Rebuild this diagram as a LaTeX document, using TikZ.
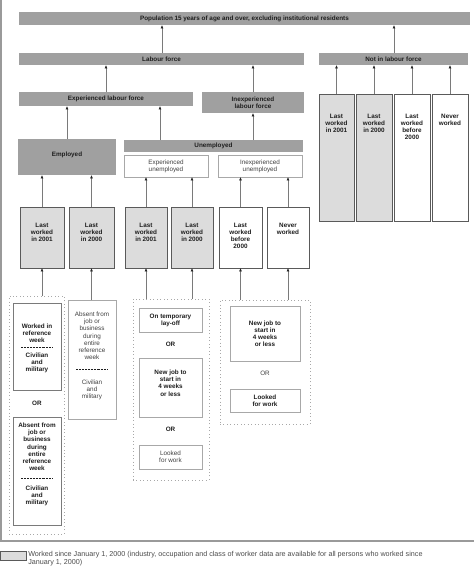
\documentclass[tikz,border=0pt]{standalone}
\usepackage{fontspec}
\setmainfont{Liberation Sans}
\usetikzlibrary{arrows.meta,calc}
\definecolor{dk}{HTML}{A0A0A0}
\definecolor{lt}{HTML}{DCDCDC}
\definecolor{bd}{HTML}{5A5A5A}
\definecolor{ln}{HTML}{7A7A7A}
\definecolor{fr}{HTML}{9A9A9A}
\definecolor{tx}{HTML}{1E1E1E}
\definecolor{lg}{HTML}{A8A8A8}
\tikzset{
  pbox/.style n args={4}{at={({(#1+#3)/2},{(#2+#4)/2})},
    minimum width={(#3-#1)*0.75pt}, minimum height={(#4-#2)*0.75pt},
    inner sep=0pt, outer sep=0pt, rectangle},
  dark/.style={fill=dk, draw=none},
  light/.style={fill=lt, draw=bd, line width=0.6pt},
  whitebox/.style={fill=white, draw=bd, line width=0.6pt},
  thinbox/.style={fill=white, draw=lg, line width=0.6pt},
  midbox/.style={fill=white, draw=ln, line width=0.6pt},
  cont/.style={draw=lg, dotted, line width=0.6pt},
  bf/.style={font=\fontsize{4.75}{5.3}\selectfont\bfseries, text=tx, align=center, inner sep=0pt},
  rg/.style={font=\fontsize{4.75}{5.3}\selectfont, text=tx!85, align=center, inner sep=0pt},
  arr/.style={draw=ln, line width=0.6pt, -{Latex[length=2.6pt,width=2.3pt,color=black!85]}},
  sepline/.style={draw=tx, dash pattern=on 0.7pt off 0.4pt, line width=0.5pt},
  framel/.style={draw=fr, line width=1.5pt},
}
\begin{document}
\begin{tikzpicture}[x=0.75pt,y=-0.75pt]
\useasboundingbox (0,0) rectangle (474,568);
\draw[framel] (1,0) -- (1,540.5) -- (474,540.5);

% top levels
\node[dark,bf,pbox={19}{12}{470}{25}] (pop) {Population 15 years of age and over, excluding institutional residents};
\node[dark,bf,pbox={19}{53}{304}{65}] (lf) {Labour force};
\node[dark,bf,pbox={319}{53}{468}{65}] (nlf) {Not in labour force};
\node[dark,bf,pbox={19}{92}{193}{106}] (elf) {Experienced labour force};
\node[dark,bf,pbox={202}{92}{304}{113}] (ilf) {Inexperienced\\labour force};

% not in labour force columns
\node[light,pbox={319}{94}{354}{221}] (n1) {};
\node[light,pbox={356}{94}{392}{221}] (n2) {};
\node[whitebox,pbox={394}{94}{430}{221}] (n3) {};
\node[whitebox,pbox={432}{94}{468}{221}] (n4) {};
\node[bf,anchor=north] (n1t) at (n1.north |- 0,114) {Last\\worked\\in 2001};
\node[bf,anchor=north] (n2t) at (n2.north |- 0,114) {Last\\worked\\in 2000};
\node[bf,anchor=north] (n3t) at (n3.north |- 0,114) {Last\\worked\\before\\2000};
\node[bf,anchor=north] (n4t) at (n4.north |- 0,114) {Never\\worked};

% employed / unemployed
\node[dark,bf,pbox={18}{139}{116}{175}] (emp) {};
\node[bf] (empt) at (67,155) {Employed};
\node[dark,bf,pbox={124}{140}{303}{152}] (unemp) {Unemployed};
\node[thinbox,rg,pbox={124}{155}{208}{177}] (eu) {Experienced\\unemployed};
\node[thinbox,rg,pbox={218}{155}{302}{177}] (iu) {Inexperienced\\unemployed};

% last worked row
\node[light,pbox={20}{207}{64}{268}] (b1) {};
\node[light,pbox={69}{207}{114}{268}] (b2) {};
\node[light,pbox={125}{207}{167}{268}] (b3) {};
\node[light,pbox={171}{207}{213}{268}] (b4) {};
\node[whitebox,pbox={219}{207}{262}{268}] (b5) {};
\node[whitebox,pbox={267}{207}{309}{268}] (b6) {};
\node[bf,anchor=north] (b1t) at (b1.north |- 0,223) {Last\\worked\\in 2001};
\node[bf,anchor=north] (b2t) at (b2.north |- 0,223) {Last\\worked\\in 2000};
\node[bf,anchor=north] (b3t) at (b3.north |- 0,223) {Last\\worked\\in 2001};
\node[bf,anchor=north] (b4t) at (b4.north |- 0,223) {Last\\worked\\in 2000};
\node[bf,anchor=north] (b5t) at (b5.north |- 0,223) {Last\\worked\\before\\2000};
\node[bf,anchor=north] (b6t) at (b6.north |- 0,223) {Never\\worked};

% column 1 container
\node[cont,pbox={9}{296}{64}{534}] (c1) {};
\node[midbox,pbox={13}{303}{61}{390}] (c1a) {};
\node[bf,anchor=north] (c1at) at (c1a.north |- 0,324) {Worked in\\reference\\week};
\draw[sepline] (21,347) -- (53,347);
\node[bf,anchor=north] (c1at2) at (c1a.north |- 0,353) {Civilian\\and\\military};
\node[bf] (or1) at (37,403) {OR};
\node[midbox,pbox={13}{417}{61}{525}] (c1b) {};
\node[bf,anchor=north] (c1bt) at (c1b.north |- 0,423) {Absent from\\job or\\business\\during\\entire\\reference\\week};
\draw[sepline] (21,478) -- (53,478);
\node[bf,anchor=north] (c1bt2) at (c1b.north |- 0,486) {Civilian\\and\\military};

% column 2
\node[thinbox,pbox={68}{300}{116}{419}] (c2) {};
\node[rg,anchor=north] (c2t) at (c2.north |- 0,312) {Absent from\\job or\\business\\during\\entire\\reference\\week};
\draw[sepline] (76,369) -- (107,369);
\node[rg,anchor=north] (c2t2) at (c2.north |- 0,380) {Civilian\\and\\military};

% column 3
\node[cont,pbox={133}{299}{209}{480}] (c3) {};
\node[thinbox,bf,pbox={139}{308}{202}{332}] (c3a) {On temporary\\lay-off};
\node[bf] (or2) at (170.5,344) {OR};
\node[thinbox,pbox={139}{358}{202}{417}] (c3b) {};
\node[bf,anchor=north] (c3bt) at (c3b.north |- 0,370) {New job to\\start in\\4 weeks\\or less};
\node[bf] (or3) at (170.5,429) {OR};
\node[thinbox,rg,pbox={139}{445}{202}{469}] (c3c) {Looked\\for work};

% column 4
\node[cont,pbox={220}{300}{310}{424}] (c4) {};
\node[thinbox,bf,pbox={230}{306}{300}{361}] (c4a) {New job to\\start in\\4 weeks\\or less};
\node[rg] (or4) at (265,373) {OR};
\node[thinbox,bf,pbox={230}{389}{300}{412}] (c4b) {Looked\\for work};

% arrows
\draw[arr] (lf.north -| 162,0) -- (pop.south -| 162,0);
\draw[arr] (nlf.north -| 394,0) -- (pop.south -| 394,0);
\draw[arr] (elf.north -| 106,0) -- (lf.south -| 106,0);
\draw[arr] (ilf.north -| 253,0) -- (lf.south -| 253,0);
\foreach \n in {n1,n2,n3,n4} \draw[arr] (\n.north) -- (\n.north |- nlf.south);
\draw[arr] (emp.north) -- (emp.north |- elf.south);
\draw[arr] (unemp.north -| 160,0) -- (elf.south -| 160,0);
\draw[arr] (unemp.north -| 253,0) -- (ilf.south -| 253,0);
\draw[arr] (b1.north) -- (b1.north |- emp.south);
\draw[arr] (b2.north) -- (b2.north |- emp.south);
\draw[arr] (b3.north) -- (b3.north |- eu.south);
\draw[arr] (b4.north) -- (b4.north |- eu.south);
\draw[arr] (b5.north) -- (b5.north |- iu.south);
\draw[arr] (b6.north) -- (b6.north |- iu.south);
\draw[arr] (c1.north -| b1.south) -- (b1.south);
\draw[arr] (c2.north -| b2.south) -- (b2.south);
\draw[arr] (c3.north -| b3.south) -- (b3.south);
\draw[arr] (c3.north -| b4.south) -- (b4.south);
\draw[arr] (c4.north -| b5.south) -- (b5.south);
\draw[arr] (c4.north -| b6.south) -- (b6.south);

% legend
\node[fill=lt, draw=bd, line width=0.5pt, pbox={0.5}{551}{26}{560}] (leg) {};
\node[anchor=north west, inner sep=0pt, align=left, text=tx!80,
  font=\fontsize{5.4}{6}\selectfont] (legt) at (28,551)
  {Worked since January 1, 2000 (industry, occupation and class of worker data are available for all persons who worked since\\January 1, 2000)};
\end{tikzpicture}
\end{document}
